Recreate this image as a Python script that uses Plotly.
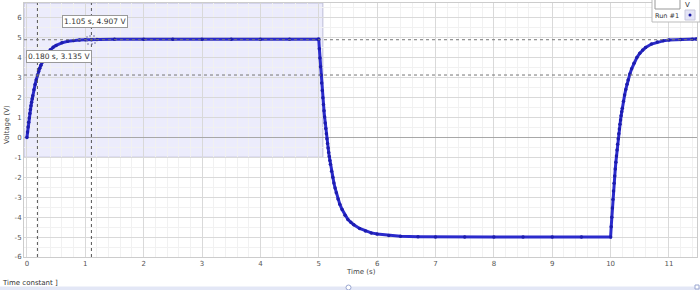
import plotly.graph_objects as go

# ---------------- data ----------------
rise1_t = [0.00, 0.01, 0.02, 0.03, 0.04, 0.05, 0.06, 0.07, 0.08, 0.09, 0.10,
           0.12, 0.14, 0.16, 0.18, 0.20, 0.22, 0.24, 0.26, 0.28, 0.30,
           0.35, 0.40, 0.45, 0.50, 0.60, 0.70, 0.80, 0.90, 1.00, 1.105, 1.20,
           1.50, 2.00, 2.50, 3.00, 3.50, 4.00, 4.50, 4.99]
rise1_v = [0.00, 0.27, 0.52, 0.76, 0.98, 1.20, 1.40, 1.59, 1.77, 1.94, 2.10,
           2.40, 2.66, 2.90, 3.135, 3.31, 3.48, 3.63, 3.77, 3.89, 4.00,
           4.22, 4.40, 4.53, 4.62, 4.75, 4.83, 4.87, 4.89, 4.90, 4.907, 4.92,
           4.93, 4.93, 4.93, 4.93, 4.93, 4.93, 4.93, 4.93]

fall_t = [5.00, 5.01, 5.02, 5.03, 5.04, 5.05, 5.06, 5.07, 5.08, 5.09, 5.10,
          5.11, 5.12, 5.13, 5.14, 5.15, 5.16, 5.17, 5.18, 5.19, 5.20,
          5.22, 5.24, 5.26, 5.28, 5.30, 5.33, 5.36, 5.40, 5.45, 5.50, 5.55,
          5.60, 5.70, 5.80, 5.90, 6.00, 6.20, 6.40, 6.70, 7.00, 7.50, 8.00,
          8.50, 9.00, 9.50, 10.00]
fall_v = [4.93, 4.45, 3.99, 3.55, 3.13, 2.74, 2.36, 2.00, 1.66, 1.34, 1.03,
          0.73, 0.45, 0.19, -0.06, -0.30, -0.53, -0.75, -0.96, -1.15, -1.34,
          -1.69, -2.00, -2.29, -2.54, -2.78, -3.09, -3.35, -3.62, -3.90, -4.12, -4.26,
          -4.38, -4.57, -4.70, -4.79, -4.85, -4.92, -4.96, -4.98, -4.99, -4.99, -4.99,
          -4.99, -4.99, -4.99, -4.99]

rise2_t = [10.01, 10.02, 10.03, 10.04, 10.05, 10.06, 10.07, 10.08, 10.09, 10.10,
           10.11, 10.12, 10.13, 10.14, 10.15, 10.16, 10.17, 10.18, 10.19, 10.20,
           10.22, 10.24, 10.26, 10.28, 10.30, 10.33, 10.36, 10.40, 10.45, 10.50,
           10.55, 10.60, 10.70, 10.80, 10.90, 11.00, 11.20, 11.40, 11.47]
rise2_v = [-4.48, -4.00, -3.54, -3.11, -2.69, -2.30, -1.93, -1.58, -1.24, -0.93,
           -0.63, -0.34, -0.07, 0.19, 0.43, 0.66, 0.88, 1.09, 1.29, 1.47,
           1.82, 2.13, 2.41, 2.67, 2.89, 3.19, 3.45, 3.73, 4.01, 4.23,
           4.39, 4.52, 4.69, 4.79, 4.85, 4.89, 4.92, 4.93, 4.94]

x_ticks = [0, 1, 2, 3, 4, 5, 6, 7, 8, 9, 10, 11]
y_ticks = [-6, -5, -4, -3, -2, -1, 0, 1, 2, 3, 4, 5, 6]
y_tick_text = [str(v) for v in y_ticks]

cursor_t = [0.180, 1.105]
cursor_v = [3.135, 4.907]
cursor_labels = ["0.180 s, 3.135 V", "1.105 s, 4.907 V"]

sel_t = [-0.05, 5.07]
sel_v = [-0.99, 6.75]

time = rise1_t + fall_t + rise2_t
volt = rise1_v + fall_v + rise2_v

# ---------------- layout helpers ----------------
W, H = 700, 290
L, R, T, B = 24, 697, 3, 257


def px(x):
    return (x - L) / (R - L)


def py(y):
    return (B - y) / (B - T)


FONT = "DejaVu Sans"

fig = go.Figure()
fig.add_trace(go.Scatter(
    x=time, y=volt, mode="lines+markers",
    line=dict(color="#2b2bcc", width=3),
    marker=dict(color="#1c1cae", size=3.5),
    hoverinfo="skip", showlegend=False,
))

shapes = []
# selection rectangle
shapes.append(dict(type="rect", xref="x", yref="y", x0=sel_t[0], x1=sel_t[1],
                   y0=sel_v[0], y1=sel_v[1], fillcolor="rgba(170,170,240,0.22)",
                   line=dict(color="#bcbcd8", width=1), layer="below"))
# cursor lines
for t in cursor_t:
    shapes.append(dict(type="line", xref="x", yref="paper", x0=t, x1=t, y0=0, y1=1,
                       line=dict(color="#555555", width=1, dash="3px,3px")))
for v in cursor_v:
    shapes.append(dict(type="line", xref="paper", yref="y", x0=0, x1=1, y0=v, y1=v,
                       line=dict(color="#777777", width=1, dash="3px,3px")))
# small dashed square around upper cursor point
shapes.append(dict(type="rect", xref="paper", yref="paper",
                   x0=px(87), x1=px(95), y0=py(44), y1=py(36),
                   line=dict(color="#7777aa", width=1, dash="2px,2px")))
# legend / run box top right
shapes.append(dict(type="rect", xref="paper", yref="paper",
                   x0=px(652), x1=px(700), y0=py(22), y1=py(-1),
                   fillcolor="white", line=dict(color="#bbbbbb", width=1)))
shapes.append(dict(type="rect", xref="paper", yref="paper",
                   x0=px(655), x1=px(680), y0=py(9), y1=py(-1),
                   fillcolor="white", line=dict(color="#999999", width=1)))
shapes.append(dict(type="rect", xref="paper", yref="paper",
                   x0=px(685), x1=px(695), y0=py(20), y1=py(10),
                   fillcolor="#e4e4f6", line=dict(color="#c8c8dc", width=1)))
shapes.append(dict(type="circle", xref="paper", yref="paper",
                   x0=px(688.5), x1=px(691.5), y0=py(16.5), y1=py(13.5),
                   fillcolor="#1a1aa0", line=dict(color="#1a1aa0", width=0)))
# bottom scroll bar
shapes.append(dict(type="rect", xref="paper", yref="paper",
                   x0=px(0), x1=px(700), y0=py(290), y1=py(286.5),
                   fillcolor="#e3e7f6", line=dict(width=0)))
shapes.append(dict(type="circle", xref="paper", yref="paper",
                   x0=px(346), x1=px(351), y0=py(290), y1=py(285),
                   fillcolor="white", line=dict(color="#9aa6d0", width=1)))
shapes.append(dict(type="rect", xref="paper", yref="paper",
                   x0=px(695), x1=px(699), y0=py(289), y1=py(285),
                   fillcolor="white", line=dict(color="#9aa6d0", width=1)))

annotations = []
label_pos = [(26, 50), (62, 15)]
for (lx, ly), txt in zip(label_pos, cursor_labels):
    annotations.append(dict(xref="paper", yref="paper", x=px(lx), y=py(ly),
                            xanchor="left", yanchor="top", text=txt, showarrow=False,
                            font=dict(family=FONT, size=7.5, color="#333333"),
                            bgcolor="white", bordercolor="#999999", borderwidth=1,
                            borderpad=1))
annotations += [
    dict(xref="paper", yref="paper", x=px(687.5), y=py(5), text="V", showarrow=False,
         xanchor="center", yanchor="middle",
         font=dict(family=FONT, size=7, color="#333333")),
    dict(xref="paper", yref="paper", x=px(667), y=py(15.5), text="Run #1", showarrow=False,
         xanchor="center", yanchor="middle",
         font=dict(family=FONT, size=6.5, color="#333333")),
    dict(xref="paper", yref="paper", x=px(361), y=py(271.5), text="Time (s)", showarrow=False,
         xanchor="center", yanchor="middle",
         font=dict(family=FONT, size=7, color="#444444")),
    dict(xref="paper", yref="paper", x=px(7), y=py(125), text="Voltage (V)", showarrow=False,
         xanchor="center", yanchor="middle", textangle=-90,
         font=dict(family=FONT, size=7, color="#444444")),
    dict(xref="paper", yref="paper", x=px(0), y=py(283), text="Time constant ]",
         xanchor="left", yanchor="middle", showarrow=False,
         font=dict(family=FONT, size=7, color="#333333")),
]

fig.update_layout(
    width=W, height=H,
    margin=dict(l=L, r=W - R, t=T, b=H - B),
    paper_bgcolor="white", plot_bgcolor="white",
    font=dict(family=FONT, size=7, color="#555555"),
    shapes=shapes, annotations=annotations, showlegend=False,
    xaxis=dict(range=[-0.05, 11.48], tickvals=x_ticks, ticks="",
               showgrid=True, gridcolor="#d9d9d9", gridwidth=1,
               minor=dict(dtick=0.2, showgrid=True, gridcolor="#f1f1f1"),
               zeroline=False, showline=True, linecolor="#cccccc", mirror=True,
               tickfont=dict(size=7, color="#555555")),
    yaxis=dict(range=[-6.0, 6.75], tickvals=y_ticks, ticktext=y_tick_text, ticks="",
               showgrid=True, gridcolor="#d9d9d9", gridwidth=1,
               minor=dict(dtick=0.5, showgrid=True, gridcolor="#f1f1f1"),
               zeroline=True, zerolinecolor="#a8a8a8", zerolinewidth=1,
               showline=True, linecolor="#cccccc", mirror=True,
               tickfont=dict(size=7, color="#555555")),
)

fig.write_html("out.html")
